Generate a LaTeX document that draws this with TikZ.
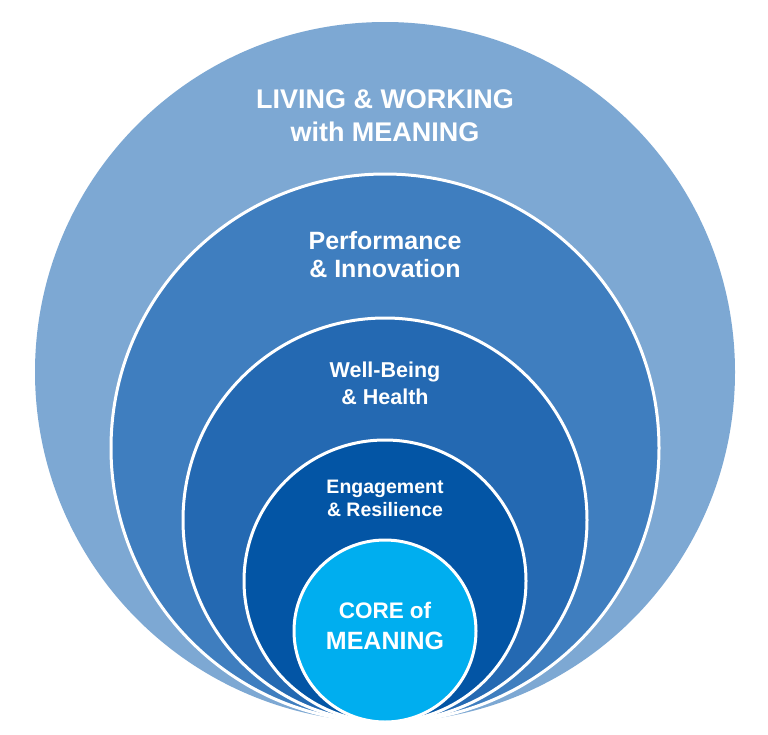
\documentclass[tikz,border=0pt]{standalone}
\usepackage{fontspec}
\setmainfont{Liberation Sans}
\definecolor{ringA}{HTML}{7DA8D3}
\definecolor{ringB}{HTML}{3F7EBF}
\definecolor{ringC}{HTML}{2469B2}
\definecolor{ringD}{HTML}{0355A5}
\definecolor{ringE}{HTML}{00AEEF}
\tikzset{
  ring/.style={circle, inner sep=0pt, outer sep=0pt, draw=white, line width=3pt},
  lbl/.style={text=white, anchor=base, inner sep=0pt, font=\bfseries},
}
\newcommand{\fs}[1]{\fontsize{#1}{#1}\selectfont}
\begin{document}
\begin{tikzpicture}[x=1pt, y=-1pt]
\useasboundingbox (0,0) rectangle (768,734);
\fill[white] (0,0) rectangle (768,734);
\node[circle, inner sep=0pt, fill=ringA, minimum size=700pt] (r1) at (385,372) {};
\node[ring, fill=ringB, minimum size=548pt] (r2) at (385,448) {};
\node[ring, fill=ringC, minimum size=404pt] (r3) at (385,520) {};
\node[ring, fill=ringD, minimum size=282pt] (r4) at (385,581) {};
\node[ring, fill=ringE, minimum size=182pt] (r5) at (385,631) {};
\node[lbl, font=\bfseries\fs{27}] (t1a) at (385,108) {LIVING \& WORKING};
\node[lbl, font=\bfseries\fs{27}] (t1b) at (385,141) {with MEANING};
\node[lbl, font=\bfseries\fs{25}] (t2a) at (385,249) {Performance};
\node[lbl, font=\bfseries\fs{25}] (t2b) at (385,277) {\& Innovation};
\node[lbl, font=\bfseries\fs{21.5}] (t3a) at (385,377) {Well-Being};
\node[lbl, font=\bfseries\fs{21.5}] (t3b) at (385,404) {\& Health};
\node[lbl, font=\bfseries\fs{19.5}] (t4a) at (385,493) {Engagement};
\node[lbl, font=\bfseries\fs{19.5}] (t4b) at (385,516) {\& Resilience};
\node[lbl, font=\bfseries\fs{22.5}] (t5a) at (385,618) {CORE of};
\node[lbl, font=\bfseries\fs{25}] (t5b) at (385,649) {MEANING};
\end{tikzpicture}
\end{document}
